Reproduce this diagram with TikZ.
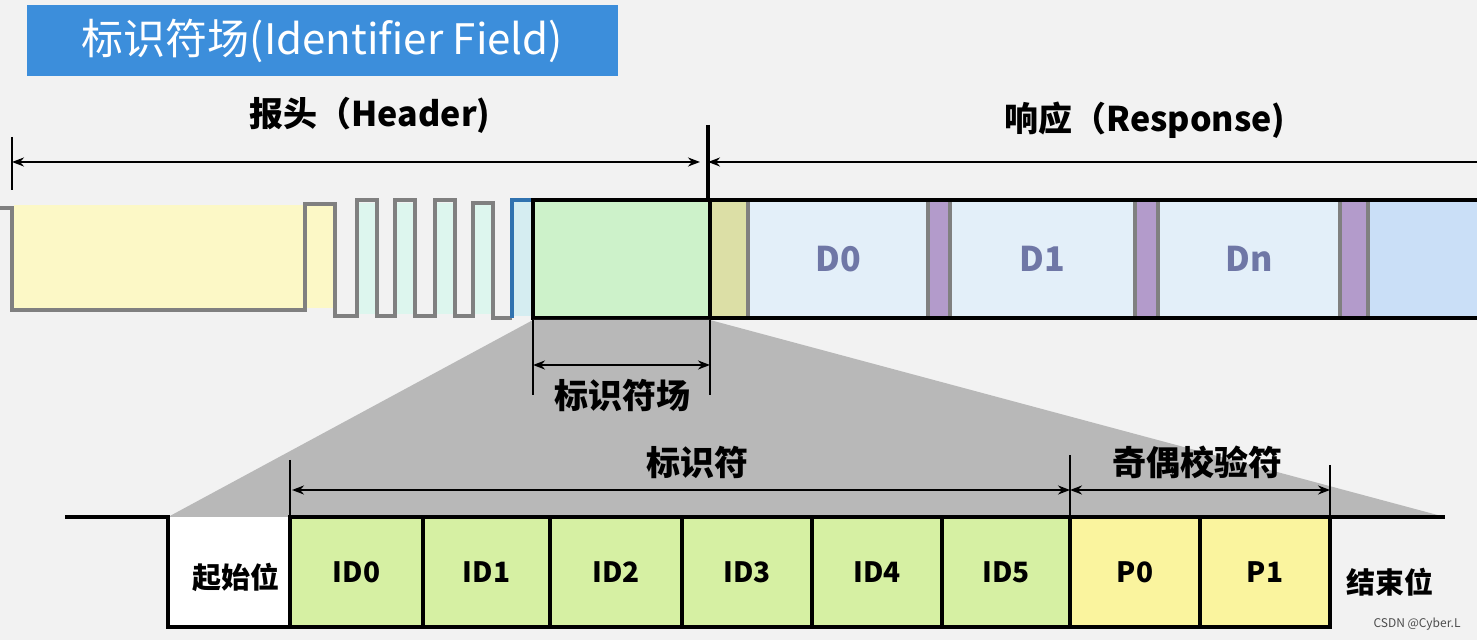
\documentclass[tikz,border=0pt]{standalone}
\usepackage{fontspec}
\setmainfont{Noto Sans CJK SC}
\usetikzlibrary{arrows.meta}
\definecolor{titleblue}{HTML}{3C8EDB}
\definecolor{wavegray}{HTML}{808080}
\definecolor{hdryellow}{HTML}{FCF8C6}
\definecolor{pulsecyan}{HTML}{DDF6EE}
\definecolor{idgreen}{HTML}{CDF2CA}
\definecolor{olive}{HTML}{DCDFA6}
\definecolor{datablue}{HTML}{E3EFF9}
\definecolor{lastblue}{HTML}{CADFF7}
\definecolor{sepviolet}{HTML}{B39BCB}
\definecolor{dtext}{HTML}{6F77A6}
\definecolor{cellgreen}{HTML}{D6F0A3}
\definecolor{cellyellow}{HTML}{FAF49E}
\begin{document}
\begin{tikzpicture}[
  x=0.5pt, y=-0.5pt,
  wave/.style={draw=wavegray, line width=2pt},
  frame/.style={draw=black, line width=2pt},
  dim/.style={draw=black, line width=1.3pt, {Stealth[length=6pt]}-{Stealth[length=6pt]}},
  tick/.style={draw=black, line width=1.3pt},
  lbl/.style={font=\bfseries\fontsize{17}{19}\selectfont, inner sep=0pt},
  dlbl/.style={font=\bfseries\fontsize{17}{19}\selectfont, text=dtext, inner sep=0pt},
  cell/.style={frame, minimum height=55pt, inner sep=0pt, font=\bfseries\fontsize{14}{16}\selectfont}
  ]
	\fill[black!5] (0,0) rectangle (1477,640);
	\useasboundingbox (0,0) rectangle (1477,640);

	% title
	\node[fill=titleblue, text=white, minimum width=295.5pt, minimum height=35.5pt, inner sep=0pt,
	  font=\fontsize{21}{23}\selectfont] (title) at (322.5,40.5) {标识符场(Identifier Field)};

	% header / response
	\node[lbl] (hdr) at (370,115) {报头（Header)};
	\node[lbl] (rsp) at (1145,120) {响应（Response)};
	\coordinate (hl) at (12,162);
	\coordinate (hr) at (700,162);
	\coordinate (rl) at (708,162);
	\coordinate (rr) at (1477,162);
	\draw[tick] (12,137) -- (12,190);
	\draw[dim] (hl) -- (hr);
	\draw[dim, {Stealth[length=6pt]}-] (rl) -- (rr);

	% header waveform
	\fill[hdryellow] (14,205) rectangle (335,308);
	\foreach \a/\b in {357/377,395/415,435/455,473/493}
		\fill[pulsecyan] (\a,203) rectangle (\b,314);
	\fill[pulsecyan!60!lastblue] (512,200) rectangle (533,316);
	\draw[wave] (0,208) -- (12,208) -- (12,310) -- (305,310) -- (305,204) -- (335,204) -- (335,316)
	  -- (357,316) -- (357,200) -- (377,200) -- (377,316) -- (395,316) -- (395,200) -- (415,200) -- (415,316)
	  -- (435,316) -- (435,200) -- (455,200) -- (455,316) -- (473,316) -- (473,203) -- (493,203) -- (493,318)
	  -- (512,318);
	\draw[draw=titleblue!80!black, line width=2pt] (512,318) -- (512,200) -- (533,200);

	% response fields
	\fill[idgreen] (533,200) rectangle (710,318);
	\fill[olive] (710,202) rectangle (748,316);
	\node[dlbl, fill=datablue, minimum width=90pt, minimum height=57pt] (d0) at (838,259) {D0};
	\node[dlbl, fill=datablue, minimum width=92.5pt, minimum height=57pt] (d1) at (1042.5,259) {D1};
	\node[dlbl, fill=datablue, minimum width=91pt, minimum height=57pt] (dn) at (1249,259) {Dn};
	\fill[lastblue] (1368,202) rectangle (1477,316);
	\foreach \a/\b in {928/950,1135/1158,1340/1368}
		\fill[sepviolet] (\a,202) rectangle (\b,316);
	\foreach \x in {748,928,950,1135,1158,1340,1368}
		\draw[wave] (\x,202) -- (\x,316);
	\draw[frame] (1477,200) -- (533,200) -- (533,318) -- (1477,318);
	\draw[frame] (710,200) -- (710,318);
	\draw[line width=2pt] (708,125) -- (708,200);

	% zoom fan
	\fill[black!28] (533,320) -- (710,320) -- (1445,517) -- (168,517) -- cycle;

	% identifier field bracket
	\draw[tick] (533,320) -- (533,395);
	\draw[tick] (710,320) -- (710,395);
	\coordinate (fl) at (533,365);
	\coordinate (fr) at (710,365);
	\draw[dim] (fl) -- (fr);
	\node[lbl] (fld) at (622,395) {标识符场};

	% bottom frame
	\fill[white] (168,517) rectangle (290,627);
	\draw[frame] (65,517) -- (168,517) -- (168,627) -- (290,627);
	\draw[frame] (1330,517) -- (1445,517);
	\node[lbl, font=\bfseries\fontsize{14.5}{16}\selectfont] (start) at (236,577) {起始位};
	\node[lbl, font=\bfseries\fontsize{14.5}{16}\selectfont] (stop) at (1390,582) {结束位};
	\foreach \n/\a/\b/\c in {ID0/290/423/cellgreen,ID1/423/550/cellgreen,ID2/550/682/cellgreen,
	  ID3/682/812/cellgreen,ID4/812/942/cellgreen,ID5/942/1070/cellgreen,P0/1070/1200/cellyellow,P1/1200/1330/cellyellow}
		\node[cell, fill=\c, minimum width=(\b-\a)/2*1pt] (\n) at ({(\a+\b)/2},572) {\n};

	% identifier / parity brackets
	\draw[tick] (290,460) -- (290,517);
	\draw[tick] (1070,455) -- (1070,517);
	\draw[tick] (1330,465) -- (1330,517);
	\coordinate (il) at (292,490);
	\coordinate (ir) at (1070,490);
	\coordinate (pr) at (1330,490);
	\draw[dim] (il) -- (ir);
	\draw[dim] (ir) -- (pr);
	\node[lbl] (ident) at (697,462) {标识符};
	\node[lbl] (parity) at (1197,462) {奇偶校验符};

	\node[font=\fontsize{6}{7}\selectfont, text=black!70, inner sep=0pt] (mark) at (1417,624) {CSDN @Cyber.L};
\end{tikzpicture}
\end{document}
